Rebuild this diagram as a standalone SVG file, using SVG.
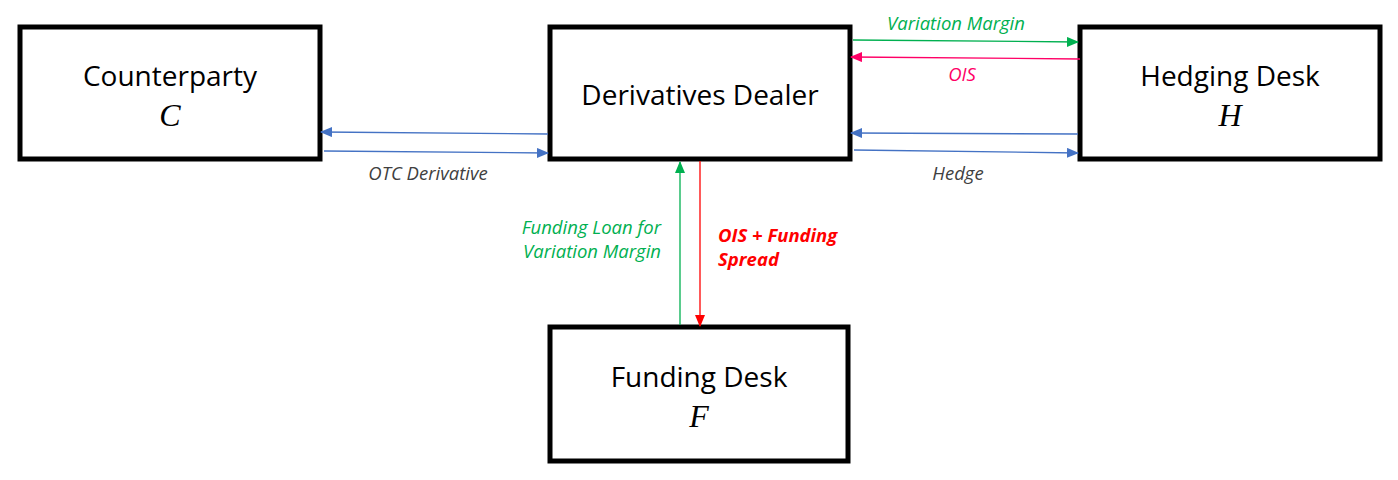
<svg xmlns="http://www.w3.org/2000/svg" width="1398" height="480" viewBox="0 0 1398 480">
<style>
.box{fill:#fff;stroke:#000;stroke-width:5}
.t{font-family:"Open Sans","Liberation Sans",sans-serif;font-size:28px;fill:#000;text-anchor:middle}
.v{font-family:"Liberation Serif",serif;font-style:italic;font-size:32px;text-anchor:middle}
.l{font-family:"Open Sans","Liberation Sans",sans-serif;font-style:italic;font-size:18.5px}
</style>
<defs>
<marker id="ab" markerWidth="12" markerHeight="10" refX="11" refY="5" orient="auto" markerUnits="userSpaceOnUse"><path d="M0,0L12,5L0,10z" fill="#4472c4"/></marker>
<marker id="ag" markerWidth="12" markerHeight="10" refX="11" refY="5" orient="auto" markerUnits="userSpaceOnUse"><path d="M0,0L12,5L0,10z" fill="#00b050"/></marker>
<marker id="ap" markerWidth="12" markerHeight="10" refX="11" refY="5" orient="auto" markerUnits="userSpaceOnUse"><path d="M0,0L12,5L0,10z" fill="#ff0066"/></marker>
<marker id="ar" markerWidth="12" markerHeight="10" refX="11" refY="5" orient="auto" markerUnits="userSpaceOnUse"><path d="M0,0L12,5L0,10z" fill="#ff0000"/></marker>
</defs>
<g id="counterparty"><rect class="box" x="20" y="27" width="300" height="132"/><text class="t" x="170" y="86">Counterparty</text><text class="v" x="170" y="126">C</text></g>
<g id="dealer"><rect class="box" x="550" y="27" width="300" height="132"/><text class="t" x="700" y="105">Derivatives Dealer</text></g>
<g id="hedging"><rect class="box" x="1080" y="27" width="300" height="132"/><text class="t" x="1230" y="86">Hedging Desk</text><text class="v" x="1230" y="126">H</text></g>
<g id="funding"><rect class="box" x="550" y="327" width="298" height="134"/><text class="t" x="699" y="387">Funding Desk</text><text class="v" x="699" y="427">F</text></g>
<g id="connectors" fill="none" stroke-width="1.3">
<line x1="548" y1="134" x2="321" y2="132" stroke="#4472c4" marker-end="url(#ab)"/>
<line x1="324" y1="151" x2="548" y2="153" stroke="#4472c4" marker-end="url(#ab)"/>
<line x1="1078" y1="134" x2="851" y2="133" stroke="#4472c4" marker-end="url(#ab)"/>
<line x1="854" y1="150" x2="1078" y2="153" stroke="#4472c4" marker-end="url(#ab)"/>
<line x1="853" y1="40" x2="1078" y2="42" stroke="#00b050" marker-end="url(#ag)"/>
<line x1="1080" y1="59" x2="851" y2="57" stroke="#ff0066" marker-end="url(#ap)"/>
<line x1="680" y1="325" x2="680" y2="162" stroke="#00b050" marker-end="url(#ag)"/>
<line x1="700" y1="161" x2="700" y2="326" stroke="#ff0000" marker-end="url(#ar)"/>
</g>
<g id="labels">
<text class="l" x="428" y="180" fill="#404040" text-anchor="middle">OTC Derivative</text>
<text class="l" x="958" y="180" fill="#404040" text-anchor="middle">Hedge</text>
<text class="l" x="956" y="30" fill="#00b050" text-anchor="middle">Variation Margin</text>
<text class="l" x="962" y="81" fill="#ff0066" text-anchor="middle">OIS</text>
<text class="l" x="661" y="234" fill="#00b050" text-anchor="end">Funding Loan for</text>
<text class="l" x="661" y="258" fill="#00b050" text-anchor="end">Variation Margin</text>
<text class="l" x="718" y="242" fill="#ff0000" font-weight="bold">OIS + Funding</text>
<text class="l" x="718" y="266" fill="#ff0000" font-weight="bold">Spread</text>
</g>
</svg>
